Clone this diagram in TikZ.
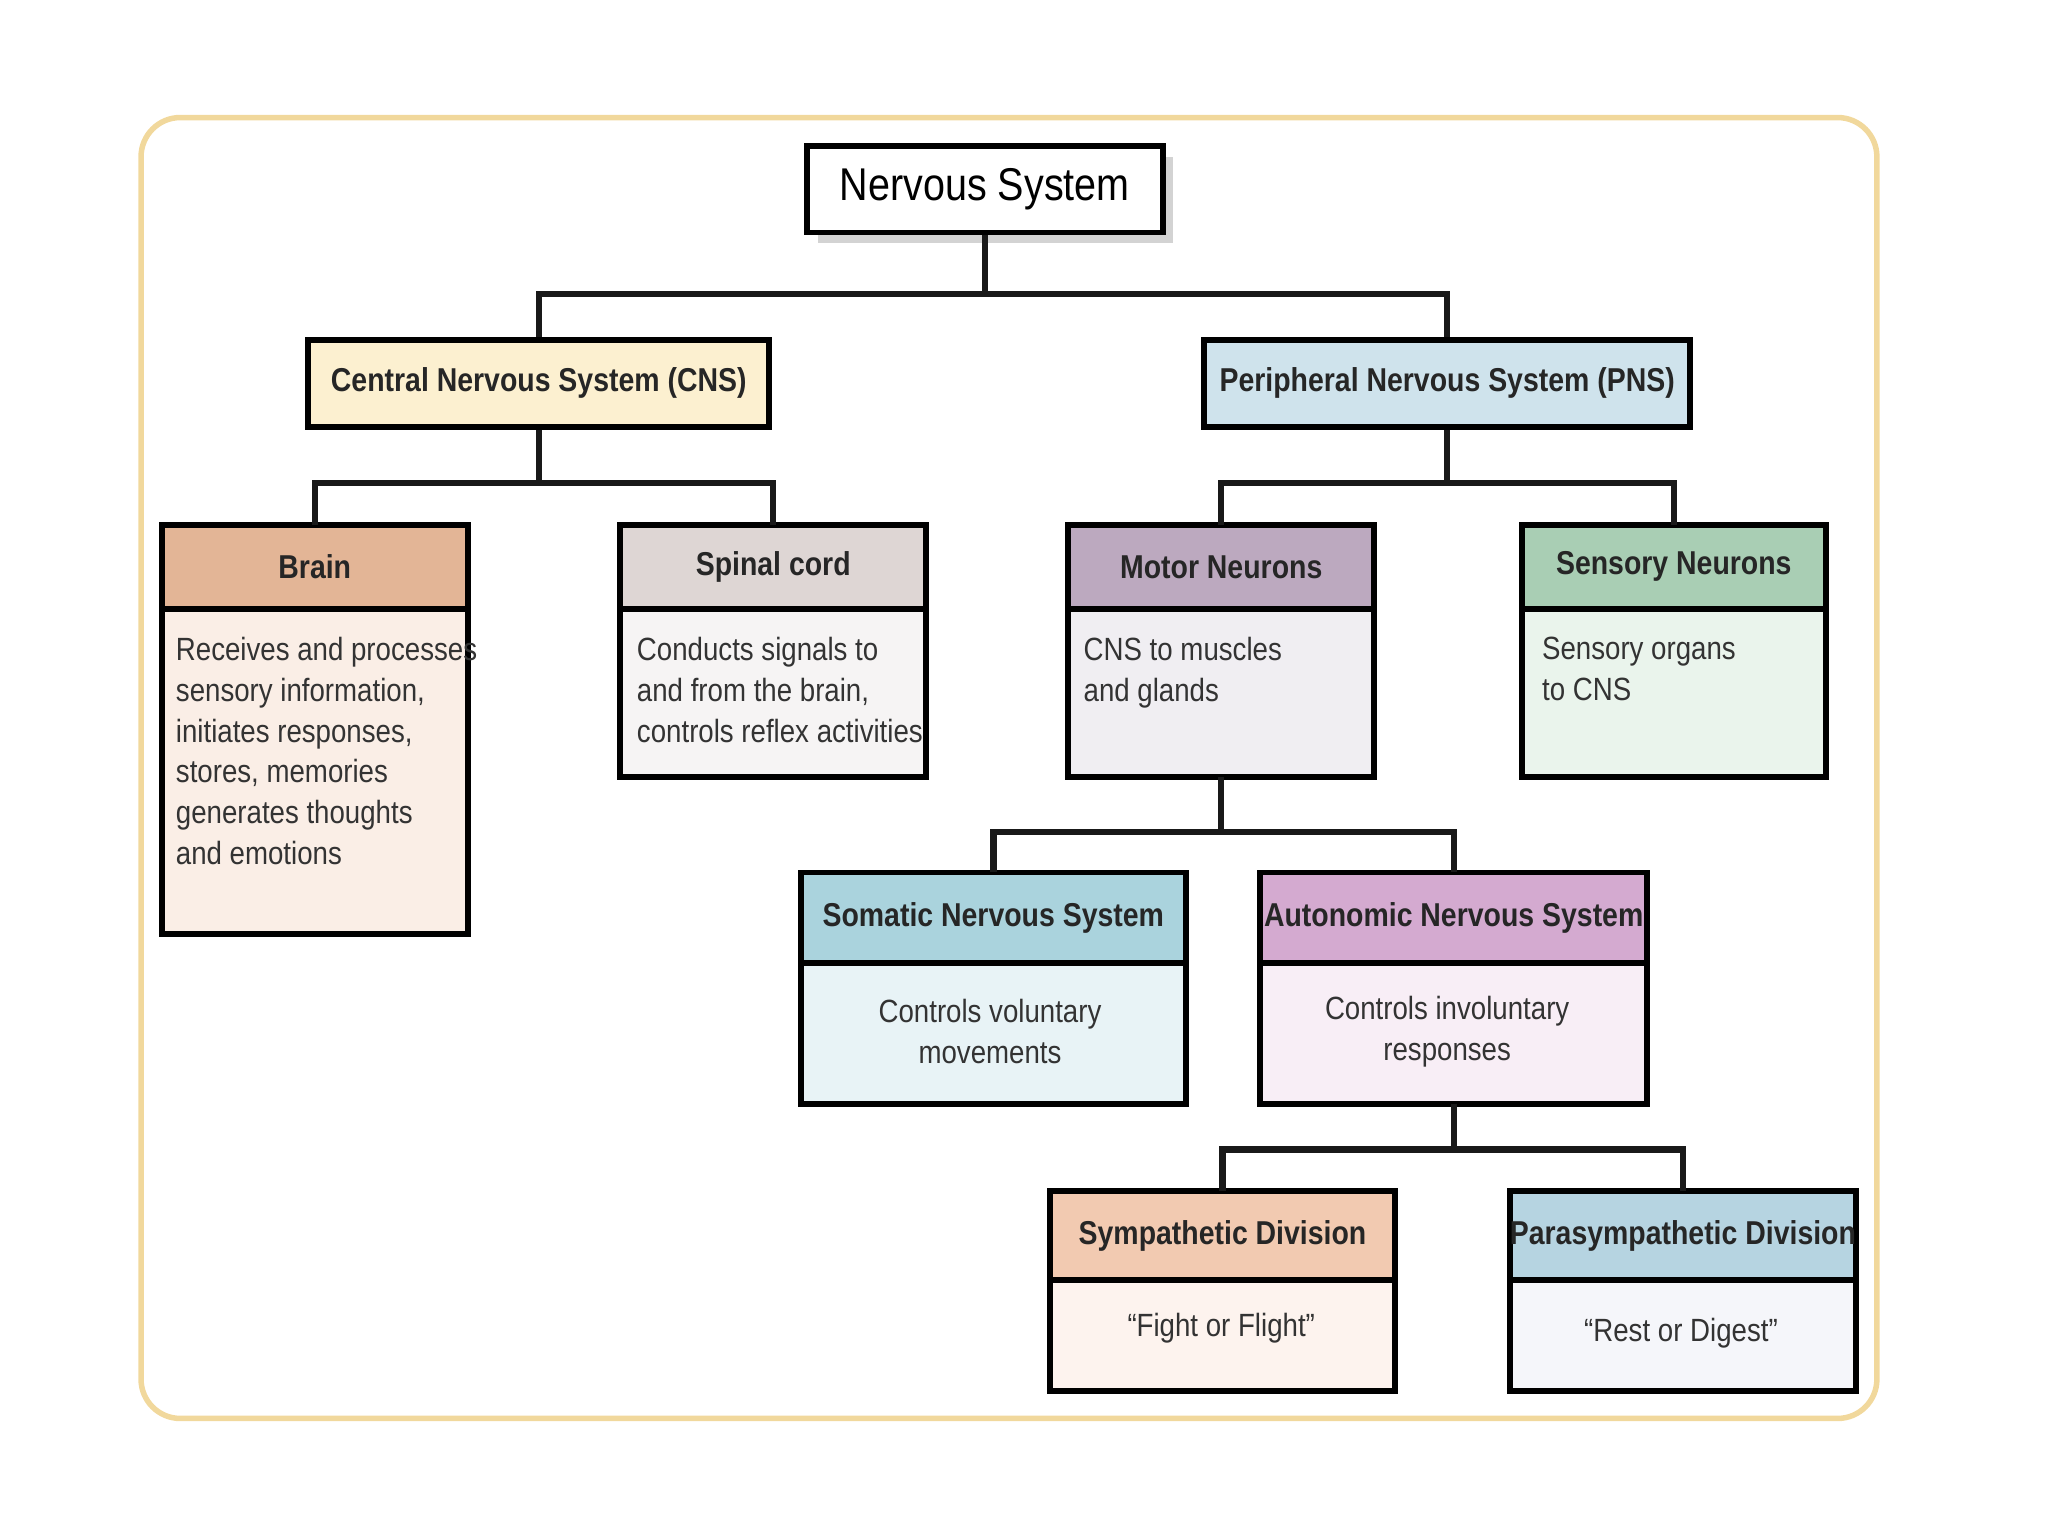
\documentclass[tikz,border=0pt]{standalone}
\usepackage{fontspec}
\setmainfont{Liberation Sans}[FakeStretch=0.86]
\usetikzlibrary{shadows}
\definecolor{frame}{HTML}{F1D89C}
\definecolor{pnsc}{HTML}{CFE3EC}\definecolor{cnsc}{HTML}{FCF0D0}
\definecolor{c1}{HTML}{E3B596}\definecolor{c1b}{HTML}{FAEEE6}
\definecolor{c2}{HTML}{DED6D4}\definecolor{c2b}{HTML}{F6F4F4}
\definecolor{c3}{HTML}{BCA9BF}\definecolor{c3b}{HTML}{F0EEF2}
\definecolor{c4}{HTML}{A9CEB4}\definecolor{c4b}{HTML}{EAF4EC}
\definecolor{c5}{HTML}{AAD3DD}\definecolor{c5b}{HTML}{E8F3F6}
\definecolor{c6}{HTML}{D4AAD0}\definecolor{c6b}{HTML}{F8EEF6}
\definecolor{c7}{HTML}{F2CAB1}\definecolor{c7b}{HTML}{FDF3EE}
\definecolor{c8}{HTML}{B6D4E1}\definecolor{c8b}{HTML}{F5F6FA}
\tikzset{
 x=0.01cm,y=-0.01cm,
 box/.style={draw=black,line width=1.3pt},
 hd/.style={font=\bfseries\fontsize{7.2}{8}\selectfont,text=black!85},
 bd/.style={font=\fontsize{7}{8.9}\selectfont,text=black!80,inner sep=0pt},
 conn/.style={line width=1.4pt,draw=black!90}
}
\newcommand{\twobox}[9]{% name x1 x2 y1 y2 y3 headcol bodycol title
 \fill[#8] (#2,#5) rectangle (#3,#6);
 \fill[#7] (#2,#4) rectangle (#3,#5);
 \draw[box] (#2,#5) -- (#3,#5);
 \draw[box] (#2,#4) rectangle (#3,#6);
 \node[hd] (#1) at ({(#2+#3)/2},{(#4+#5)/2}) {#9};
 \coordinate (#1-t) at ({(#2+#3)/2},#4);
 \coordinate (#1-b) at ({(#2+#3)/2},#6);
}
\begin{document}
\begin{tikzpicture}
\useasboundingbox (0,0) rectangle (1568,1176);
\draw[frame,line width=1.2pt,rounded corners=0.3cm] (108,90) rectangle (1437,1086);
\node[draw,line width=1.3pt,fill=white,minimum width=2.72cm,minimum height=0.66cm,drop shadow={opacity=0.35,shadow xshift=0.08cm,shadow yshift=-0.08cm},font=\fontsize{10}{12}\selectfont] (ns) at (754,145) {Nervous System};
\node[box,fill=cnsc,minimum width=3.53cm,minimum height=0.67cm,hd] (cns) at (412.5,293.5) {Central Nervous System (CNS)};
\node[box,fill=pnsc,minimum width=3.52cm,minimum height=0.67cm,hd] (pns) at (1108,293.5) {Peripheral Nervous System (PNS)};
\twobox{brain}{124}{358}{402}{466}{715}{c1}{c1b}{Brain}
\twobox{spinal}{475}{709}{402}{466}{595}{c2}{c2b}{Spinal cord}
\twobox{motor}{818}{1052}{402}{466}{595}{c3}{c3b}{Motor Neurons}
\twobox{sens}{1165}{1398}{402}{466}{595}{c4}{c4b}{Sensory Neurons}
\twobox{som}{613}{908}{668}{737}{845}{c5}{c5b}{Somatic Nervous System}
\twobox{aut}{965}{1261}{668}{737}{845}{c6}{c6b}{Autonomic Nervous System}
\twobox{sym}{804}{1068}{912}{980}{1065}{c7}{c7b}{Sympathetic Division}
\twobox{para}{1156}{1421}{912}{980}{1065}{c8}{c8b}{Parasympathetic Division}
\node[bd,align=left,anchor=north west] (t1) at (134,487) {Receives and processes\\sensory information,\\initiates responses,\\stores, memories\\generates thoughts\\and emotions};
\node[bd,align=left,anchor=north west] (t2) at (487,487) {Conducts signals to\\and from the brain,\\controls reflex activities};
\node[bd,align=left,anchor=north west] (t3) at (829,487) {CNS to muscles\\and glands};
\node[bd,align=left,anchor=north west] (t4) at (1180,487) {Sensory organs\\to CNS};
\node[bd,align=center] (t5) at (758,790) {Controls voluntary\\movements};
\node[bd,align=center] (t6) at (1108,790) {Controls involuntary\\responses};
\node[bd] (t7) at (935,1017) {“Fight or Flight”};
\node[bd] (t8) at (1287,1021) {“Rest or Digest”};
\draw[conn] (ns.south) -- (754,225) -| (cns.north);
\draw[conn] (754,225) -| (pns.north);
\draw[conn] (cns.south) -- (412.5,370) -| (brain-t);
\draw[conn] (412.5,370) -| (spinal-t);
\draw[conn] (pns.south) -- (1108,370) -| (motor-t);
\draw[conn] (1108,370) -| (sens-t);
\draw[conn] (motor-b) -- (935,637) -| (som-t);
\draw[conn] (935,637) -| (aut-t);
\draw[conn] (aut-b) -- (1113,880) -| (sym-t);
\draw[conn] (1113,880) -| (para-t);
\end{tikzpicture}
\end{document}
